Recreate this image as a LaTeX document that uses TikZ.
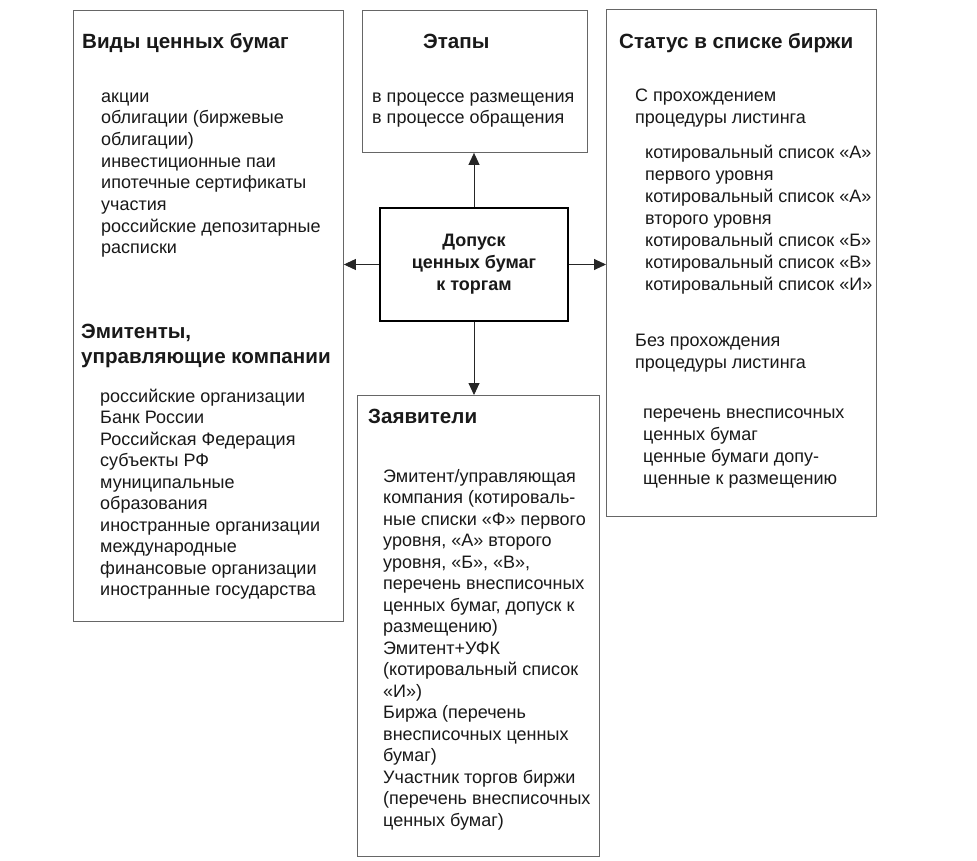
\documentclass[tikz,border=0pt]{standalone}
\usepackage{fontspec}
\setmainfont{Liberation Sans}
\usetikzlibrary{arrows.meta}
\begin{document}
\begin{tikzpicture}[x=1pt,y=-1pt,
  box/.style={draw=black!60, line width=0.9pt, rectangle, inner sep=0pt, anchor=north west},
  mainbox/.style={draw=black, line width=2pt, rectangle, inner sep=0pt, align=center,
    text=black!90, font=\fontsize{18}{22}\selectfont\bfseries},
  txt/.style={anchor=north west, inner sep=0pt, align=left, text=black!90,
    font=\fontsize{18}{21.7}\selectfont},
  txtb/.style={txt, font=\fontsize{18}{22}\selectfont},
  txtc/.style={txt, font=\fontsize{18}{21.5}\selectfont},
  head/.style={anchor=north west, inner sep=0pt, align=left, text=black!90,
    font=\fontsize{20.6}{25}\selectfont\bfseries},
  arr/.style={-{Triangle[length=12pt,width=11pt]}, line width=0.9pt, draw=black!85}]
\useasboundingbox[fill=white] (0,0) rectangle (977,861);

% boxes
\node[box, minimum width=270pt, minimum height=611pt] (vid) at (73,10) {};
\node[box, minimum width=225pt, minimum height=142pt] (et) at (362,10) {};
\node[box, minimum width=270pt, minimum height=507pt] (st) at (606,9) {};
\node[box, minimum width=242pt, minimum height=461pt] (zv) at (357,395) {};
\node[mainbox, minimum width=188pt, minimum height=113pt] (c) at (474,264.5)
  {Допуск\\ценных бумаг\\к торгам};

% arrows
\draw[arr] (c.west) -- (c.west -| vid.east);
\draw[arr] (c.east) -- (c.east -| st.west);
\draw[arr] (c.north) -- (c.north |- et.south);
\draw[arr] (c.south) -- (c.south |- zv.north);

% left box
\node[head] (h1) at (82,30.5) {\strut Виды ценных бумаг};
\node[txt] (t1) at (101,86.7) {\strut акции\\облигации (биржевые\\облигации)\\инвестиционные паи\\ипотечные сертификаты\\участия\\российские депозитарные\\расписки};
\node[head] (h2) at (81,320.5) {\strut Эмитенты,\\управляющие компании};
\node[txtc] (t2) at (100,387) {\strut российские организации\\Банк России\\Российская Федерация\\субъекты РФ\\муниципальные\\образования\\иностранные организации\\международные\\финансовые организации\\иностранные государства};

% stages
\node[head] (h3) at (423,30.5) {\strut Этапы};
\node[txtc] (t3) at (372,87) {\strut в процессе размещения\\в процессе обращения};

% status
\node[head] (h4) at (619,30.5) {\strut Статус в списке биржи};
\node[txtb] (t4) at (635,85.6) {\strut С прохождением\\процедуры листинга};
\node[txtb] (t5) at (645,143.1) {\strut котировальный список «А»\\первого уровня\\котировальный список «А»\\второго уровня\\котировальный список «Б»\\котировальный список «В»\\котировальный список «И»};
\node[txtb] (t6) at (635,330.6) {\strut Без прохождения\\процедуры листинга};
\node[txtb] (t7) at (643,403.1) {\strut перечень внесписочных\\ценных бумаг\\ценные бумаги допу-\\щенные к размещению};

% applicants
\node[head] (h5) at (368,405.5) {\strut Заявители};
\node[txtc] (t8) at (383,467) {\strut Эмитент/управляющая\\компания (котироваль-\\ные списки «Ф» первого\\уровня, «А» второго\\уровня, «Б», «В»,\\перечень внесписочных\\ценных бумаг, допуск к\\размещению)\\Эмитент+УФК\\(котировальный список\\«И»)\\Биржа (перечень\\внесписочных ценных\\бумаг)\\Участник торгов биржи\\(перечень внесписочных\\ценных бумаг)};
\end{tikzpicture}
\end{document}
